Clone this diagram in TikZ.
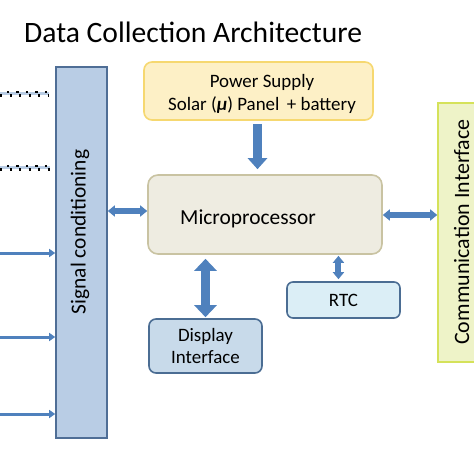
\documentclass[tikz,border=0pt]{standalone}
\usepackage{fontspec}
\setmainfont{Carlito}
\usetikzlibrary{arrows.meta}
\definecolor{sigfill}{HTML}{B9CDE5}
\definecolor{sigdraw}{HTML}{4F6E96}
\definecolor{psufill}{HTML}{FDF0C6}
\definecolor{psudraw}{HTML}{F6D870}
\definecolor{mpfill}{HTML}{EEECE1}
\definecolor{mpdraw}{HTML}{C9C3A2}
\definecolor{comfill}{HTML}{EEF3C8}
\definecolor{comdraw}{HTML}{D5E25A}
\definecolor{dispfill}{HTML}{C8DAEA}
\definecolor{rtcfill}{HTML}{DBEEF6}
\definecolor{boxdraw}{HTML}{4B6D93}
\definecolor{arrowblue}{HTML}{4F81BD}
\tikzset{
  box/.style={draw, line width=1.6bp, inner sep=0pt, align=center},
  blockarrow/.style={draw=arrowblue, line width=#1},
  inarrow/.style={draw=arrowblue, line width=3bp, -{Triangle[width=8bp,length=6bp]}},
  dotline/.style={draw=sigfill, line width=3bp},
  dotblack/.style={draw=black, line width=2.2bp, dash pattern=on 2.2bp off 7.3bp},
  big/.style={font=\fontsize{29.7}{34}\selectfont},
  mid/.style={font=\fontsize{19}{24}\selectfont},
  lbl/.style={font=\fontsize{21.5}{26}\selectfont},
}
\begin{document}
\begin{tikzpicture}[x=1bp,y=-1bp]
\useasboundingbox (0,0) rectangle (474,474);
\clip (0,0) rectangle (474,474);
% title
\node[big, anchor=west, inner sep=0pt] (title) at (24,32) {Data Collection Architecture};
% boxes
\node[box, draw=sigdraw, fill=sigfill, minimum width=51bp, minimum height=371bp] (sig) at (81.5,252.5) {};
\node[lbl, rotate=90, inner sep=0pt] (sigtext) at (80,232) {Signal conditioning};
\node[box, draw=psudraw, fill=psufill, rounded corners=8bp, minimum width=229bp, minimum height=58bp] (psu) at (258.5,91) {};
\node[mid, align=center, inner sep=0pt] (psutext) at (262,94) {Power Supply\\[0pt]Solar (\textbf{\textit{μ}}) Panel\, + battery};
\node[box, draw=mpdraw, fill=mpfill, rounded corners=10bp, minimum width=234bp, minimum height=79bp] (mp) at (265,214.5) {};
\node[lbl, inner sep=0pt, anchor=west] (mptext) at (180,219) {Microprocessor};
\node[box, draw=comdraw, fill=comfill, minimum width=60bp, minimum height=259bp] (com) at (468,232.5) {};
\node[font=\fontsize{22}{26}\selectfont, rotate=90, inner sep=0pt, anchor=base] (comtext) at (469,232) {Communication Interface};
\node[box, draw=boxdraw, fill=dispfill, rounded corners=7bp, minimum width=113bp, minimum height=54bp, mid] (disp) at (205.5,346) {Display\\[-1bp]Interface};
\node[box, draw=boxdraw, fill=rtcfill, rounded corners=6bp, minimum width=113bp, minimum height=36bp, mid] (rtc) at (343.5,300) {RTC};
% block arrows
\draw[blockarrow=9.5bp, -{Triangle[width=19bp,length=11bp]}] (psu.south -| 257.5,0) ++(0,3) -- ([yshift=5bp]mp.north -| 257.5,0);
\draw[blockarrow=9bp, {Triangle[width=22bp,length=12bp]}-{Triangle[width=22bp,length=12bp]}] ([yshift=-4bp]mp.south -| disp.north) -- ([yshift=1bp]disp.north);
\draw[blockarrow=6bp, {Triangle[width=11bp,length=7bp]}-{Triangle[width=11bp,length=7bp]}] ([yshift=-1bp]mp.south -| rtc.105) -- ([yshift=2bp]rtc.105);
\draw[blockarrow=5.5bp, {Triangle[width=11bp,length=7bp]}-{Triangle[width=11bp,length=7bp]}] (sig.east |- 0,211) -- (mp.west |- 0,211);
\draw[blockarrow=5.5bp, {Triangle[width=11bp,length=7bp]}-{Triangle[width=11bp,length=7bp]}] (mp.east |- 0,215) -- (com.west |- 0,215);
% input arrows
\coordinate (in1) at (0,253);
\coordinate (in2) at (0,337);
\coordinate (in3) at (0,414);
\draw[inarrow] (in1) -- (in1 -| sig.west);
\draw[inarrow] (in2) -- (in2 -| sig.west);
\draw[inarrow] (in3) -- (in3 -| sig.west);
% dotted inputs
\coordinate (d1) at (0,94);
\coordinate (d1e) at (49,94);
\coordinate (d2) at (0,168);
\coordinate (d2e) at (50,168);
\draw[dotline] (d1) -- (d1e);
\draw[dotline] (d2) -- (d2e);
\draw[dotblack] ([yshift=-1.6bp]d1) -- ([yshift=-1.6bp]d1e);
\draw[dotblack, dash phase=2.6bp] ([yshift=1.6bp]d1) -- ([yshift=1.6bp]d1e);
\draw[dotblack] ([yshift=-1.6bp]d2) -- ([yshift=-1.6bp]d2e);
\draw[dotblack, dash phase=2.6bp] ([yshift=1.6bp]d2) -- ([yshift=1.6bp]d2e);
\end{tikzpicture}
\end{document}
